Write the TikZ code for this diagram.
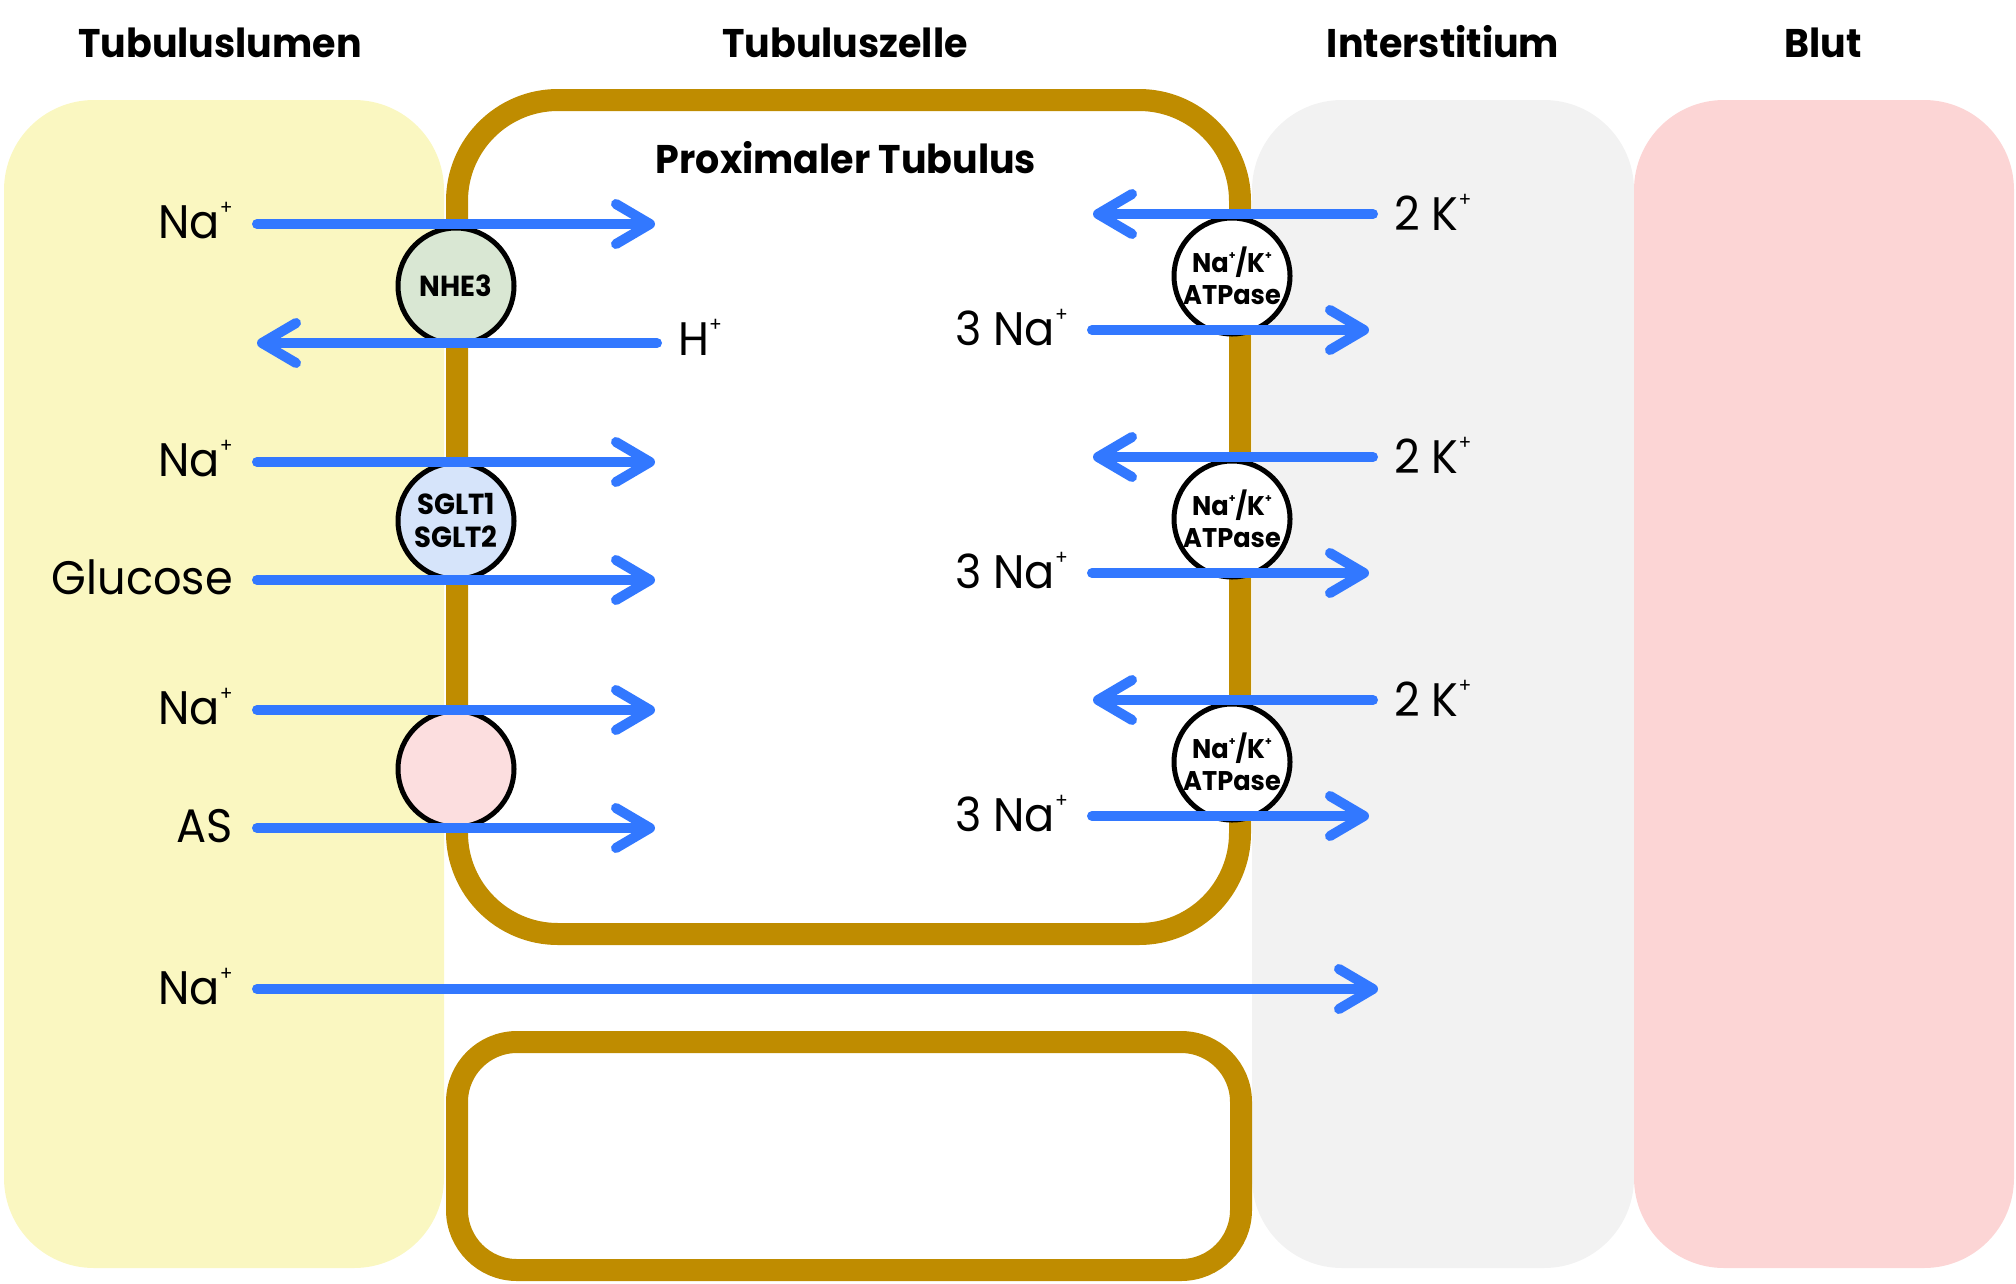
\documentclass[tikz,border=0pt]{standalone}
\usepackage{graphicx}
\usepackage{fontspec}
\setmainfont{Poppins}[FakeStretch=0.95]
\usetikzlibrary{arrows.meta}
\definecolor{lumenc}{RGB}{250,247,193}
\definecolor{interc}{RGB}{242,242,242}
\definecolor{blutc}{RGB}{252,213,213}
\definecolor{wallc}{RGB}{191,140,0}
\definecolor{flowc}{RGB}{50,120,255}
\definecolor{nhec}{RGB}{217,231,211}
\definecolor{sglc}{RGB}{214,228,250}
\definecolor{asc}{RGB}{252,222,223}
\newcommand{\ionp}{\raisebox{0.5em}{\scalebox{0.42}{+}}}
\tikzset{
  title/.style={font=\fontsize{40}{48}\selectfont\bfseries, inner sep=0pt, anchor=base},
  ionlbl/.style={font=\fontsize{47}{57}\selectfont, inner sep=0pt},
  flow/.style={draw=flowc, line width=10pt, line cap=round,
    -{Straight Barb[length=34pt,width=40pt,round]}},
  carrier/.style={circle, draw=black, line width=5pt, minimum size=116pt,
    inner sep=0pt, align=center,
    font=\fontsize{29}{33}\selectfont\bfseries},
  pump/.style={carrier, fill=white, font=\fontsize{27}{32}\selectfont\bfseries},
  wall/.style={draw=wallc, line width=22pt}
}
\begin{document}
\begin{tikzpicture}[x=1pt,y=-1pt]
\useasboundingbox (0,0) rectangle (2016,1283);
% compartments
\fill[lumenc, rounded corners=90pt] (4,100) rectangle (444,1268);
\fill[interc, rounded corners=90pt] (1252,100) rectangle (1634,1268);
\fill[blutc, rounded corners=90pt] (1634,100) rectangle (2014,1268);
% cells
\draw[wall, rounded corners=101pt] (457,100) rectangle (1240,934);
\draw[wall, rounded corners=60pt] (457,1042) rectangle (1241,1270);
% titles
\node[title] (t1) at (220,57) {Tubuluslumen};
\node[title] (t2) at (845,57) {Tubuluszelle};
\node[title] (t3) at (1443,57) {Interstitium};
\node[title] (t4) at (1823,57) {Blut};
\node[title] (t5) at (846,173) {Proximaler Tubulus};
% carriers
\node[carrier, fill=nhec] (nhe) at (456,286) {NHE3};
\node[carrier, fill=sglc] (sglt) at (456,521) {SGLT1\\SGLT2};
\node[carrier, fill=asc] (asc) at (456,769) {};
\node[pump] (atp1) at (1232,276) {Na\ionp/K\ionp\\ATPase};
\node[pump] (atp2) at (1232,519) {Na\ionp/K\ionp\\ATPase};
\node[pump] (atp3) at (1232,762) {Na\ionp/K\ionp\\ATPase};
% labels left
\node[ionlbl, anchor=base east] (l1) at (233,238) {Na\ionp};
\node[ionlbl, anchor=base west] (l2) at (678,355) {H\ionp};
\node[ionlbl, anchor=base east] (l3) at (233,476) {Na\ionp};
\node[ionlbl, anchor=base east] (l4) at (233,594) {Glucose};
\node[ionlbl, anchor=base east] (l5) at (233,724) {Na\ionp};
\node[ionlbl, anchor=base east] (l6) at (233,842) {AS};
\node[ionlbl, anchor=base east] (l7) at (233,1004) {Na\ionp};
% labels right
\node[ionlbl, anchor=base west] (k1) at (1394,230) {2 K\ionp};
\node[ionlbl, anchor=base west] (k2) at (1394,473) {2 K\ionp};
\node[ionlbl, anchor=base west] (k3) at (1394,716) {2 K\ionp};
\node[ionlbl, anchor=base east] (n1) at (1068,345) {3 Na\ionp};
\node[ionlbl, anchor=base east] (n2) at (1068,588) {3 Na\ionp};
\node[ionlbl, anchor=base east] (n3) at (1068,831) {3 Na\ionp};
% arrow end points
\coordinate (a1s) at (257,224); \coordinate (a1e) at (655,224);
\coordinate (a2s) at (657,343); \coordinate (a2e) at (257,343);
\coordinate (a3s) at (257,462); \coordinate (a3e) at (655,462);
\coordinate (a4s) at (257,580); \coordinate (a4e) at (655,580);
\coordinate (a5s) at (257,710); \coordinate (a5e) at (655,710);
\coordinate (a6s) at (257,828); \coordinate (a6e) at (655,828);
\coordinate (a7s) at (257,989); \coordinate (a7e) at (1378,989);
\coordinate (k1s) at (1373,214); \coordinate (k1e) at (1093,214);
\coordinate (k2s) at (1373,457); \coordinate (k2e) at (1093,457);
\coordinate (k3s) at (1373,700); \coordinate (k3e) at (1093,700);
\coordinate (n1s) at (1092,330); \coordinate (n1e) at (1369,330);
\coordinate (n2s) at (1092,573); \coordinate (n2e) at (1369,573);
\coordinate (n3s) at (1092,816); \coordinate (n3e) at (1369,816);
% arrows
\foreach \p in {a1,a2,a3,a4,a5,a6,a7,k1,k2,k3,n1,n2,n3}
  \draw[flow] (\p s) -- (\p e);
\end{tikzpicture}
\end{document}
